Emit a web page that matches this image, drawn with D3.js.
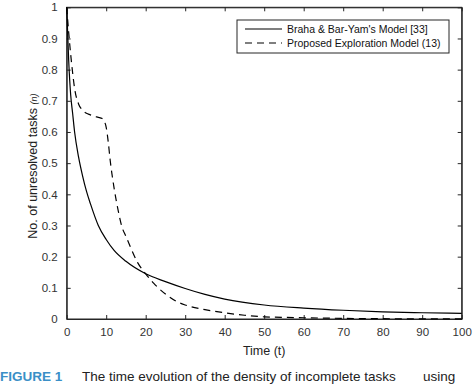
<!DOCTYPE html>
<html><head><meta charset="utf-8">
<script src="https://cdn.jsdelivr.net/npm/d3@7"></script>
<style>body{margin:0;background:#fff}svg{display:block}</style>
</head><body>
<script>
// Data
const xTicks = [0,10,20,30,40,50,60,70,80,90,100];
const yTicks = [0,0.1,0.2,0.3,0.4,0.5,0.6,0.7,0.8,0.9,1];
const brahaT = [0,0.5,1,1.5,2,3,4,5,6,8,10,12,15,20,25,30,35,40,50,60,70,80,90,100];
const brahaN = [1.0,0.83,0.72,0.66,0.60,0.52,0.46,0.41,0.37,0.30,0.255,0.22,0.185,0.145,0.12,0.098,0.079,0.064,0.045,0.035,0.028,0.023,0.020,0.018];
const propT = [0,0.5,1,1.5,2,3,4,5,6,7,8,9,9.5,10,10.5,11,12,13,14,15,16,18,20,22,25,28,30,35,40,45,50,60,70,80,90,100];
const propN = [1.0,0.92,0.85,0.79,0.74,0.69,0.67,0.66,0.655,0.65,0.647,0.643,0.635,0.615,0.57,0.51,0.42,0.35,0.295,0.265,0.235,0.18,0.145,0.115,0.08,0.055,0.045,0.03,0.02,0.012,0.007,0.004,0.002,0.001,0.0005,0.0003];
const legendLabels = ["Braha & Bar-Yam's Model [33]","Proposed Exploration Model (13)"];

const W=474,H=384;
const L=66.7,R=461.7,T=7.3,B=319;
const svg=d3.select("body").append("svg").attr("width",W).attr("height",H);
const x=d3.scaleLinear().domain([0,100]).range([L,R]);
const y=d3.scaleLinear().domain([0,1]).range([B,T]);
const axisCol="#262626", font="Liberation Sans, Arial, sans-serif";

// box
svg.append("rect").attr("x",L).attr("y",T).attr("width",R-L).attr("height",B-T)
  .attr("fill","none").attr("stroke",axisCol).attr("stroke-width",1);

// axes
const gx=svg.append("g").attr("transform",`translate(0,${B})`)
  .call(d3.axisBottom(x).tickValues(xTicks).tickSizeInner(-4).tickSizeOuter(0).tickPadding(9).tickFormat(d3.format("d")));
const gxt=svg.append("g").attr("transform",`translate(0,${T})`)
  .call(d3.axisTop(x).tickValues(xTicks).tickSizeInner(-4).tickSizeOuter(0).tickFormat(""));
const gy=svg.append("g").attr("transform",`translate(${L},0)`)
  .call(d3.axisLeft(y).tickValues(yTicks).tickSizeInner(-4).tickSizeOuter(0).tickPadding(9).tickFormat(d=>d===0?"0":d===1?"1":d3.format(".1f")(d)));
const gyr=svg.append("g").attr("transform",`translate(${R},0)`)
  .call(d3.axisRight(y).tickValues(yTicks).tickSizeInner(-4).tickSizeOuter(0).tickFormat(""));
[gx,gxt,gy,gyr].forEach(g=>{
  g.select(".domain").attr("stroke",axisCol);
  g.selectAll(".tick line").attr("stroke",axisCol);
  g.selectAll("text").attr("font-family",font).attr("font-size",11.5).attr("fill","#333");
});

// lines
const line=d3.line().x(d=>x(d[0])).y(d=>y(d[1])).curve(d3.curveMonotoneX);
svg.append("path").datum(brahaT.map((t,i)=>[t,brahaN[i]]))
  .attr("d",line).attr("fill","none").attr("stroke","#000").attr("stroke-width",1.2);
svg.append("path").datum(propT.map((t,i)=>[t,propN[i]]))
  .attr("d",line).attr("fill","none").attr("stroke","#000").attr("stroke-width",1.2).attr("stroke-dasharray","7,5");

// axis labels
svg.append("text").attr("x",(L+R)/2).attr("y",355).attr("text-anchor","middle")
  .attr("font-family",font).attr("font-size",12.5).attr("fill","#222").text("Time (t)");
const yl=svg.append("text").attr("transform",`translate(37,${(T+B)/2+3}) rotate(-90)`).attr("text-anchor","middle")
  .attr("font-family",font).attr("font-size",12.5).attr("fill","#222");
yl.append("tspan").text("No. of unresolved tasks ");
yl.append("tspan").attr("font-size",9).attr("font-style","italic").text("(n)");

// legend
const lg=svg.append("g");
lg.append("rect").attr("x",237).attr("y",20).attr("width",212).attr("height",33)
  .attr("fill","#fff").attr("stroke",axisCol).attr("stroke-width",1);
[29,43].forEach((yy,i)=>{
  lg.append("line").attr("x1",245).attr("x2",282).attr("y1",yy).attr("y2",yy)
    .attr("stroke","#000").attr("stroke-width",1.2).attr("stroke-dasharray",i?"7,5":null);
  lg.append("text").attr("x",287).attr("y",yy+4).attr("font-family",font).attr("font-size",10.5)
    .attr("fill","#111").text(legendLabels[i]);
});

// caption
const cap=svg.append("text").attr("x",0).attr("y",381).attr("font-family",font).attr("font-size",13.5).attr("fill","#222");
cap.append("tspan").attr("fill","#3a8fc7").attr("font-weight","bold").text("FIGURE 1");
cap.append("tspan").attr("x",82).text("The time evolution of the density of incomplete tasks");
cap.append("tspan").attr("x",423).text("using");
</script>
</body></html>
